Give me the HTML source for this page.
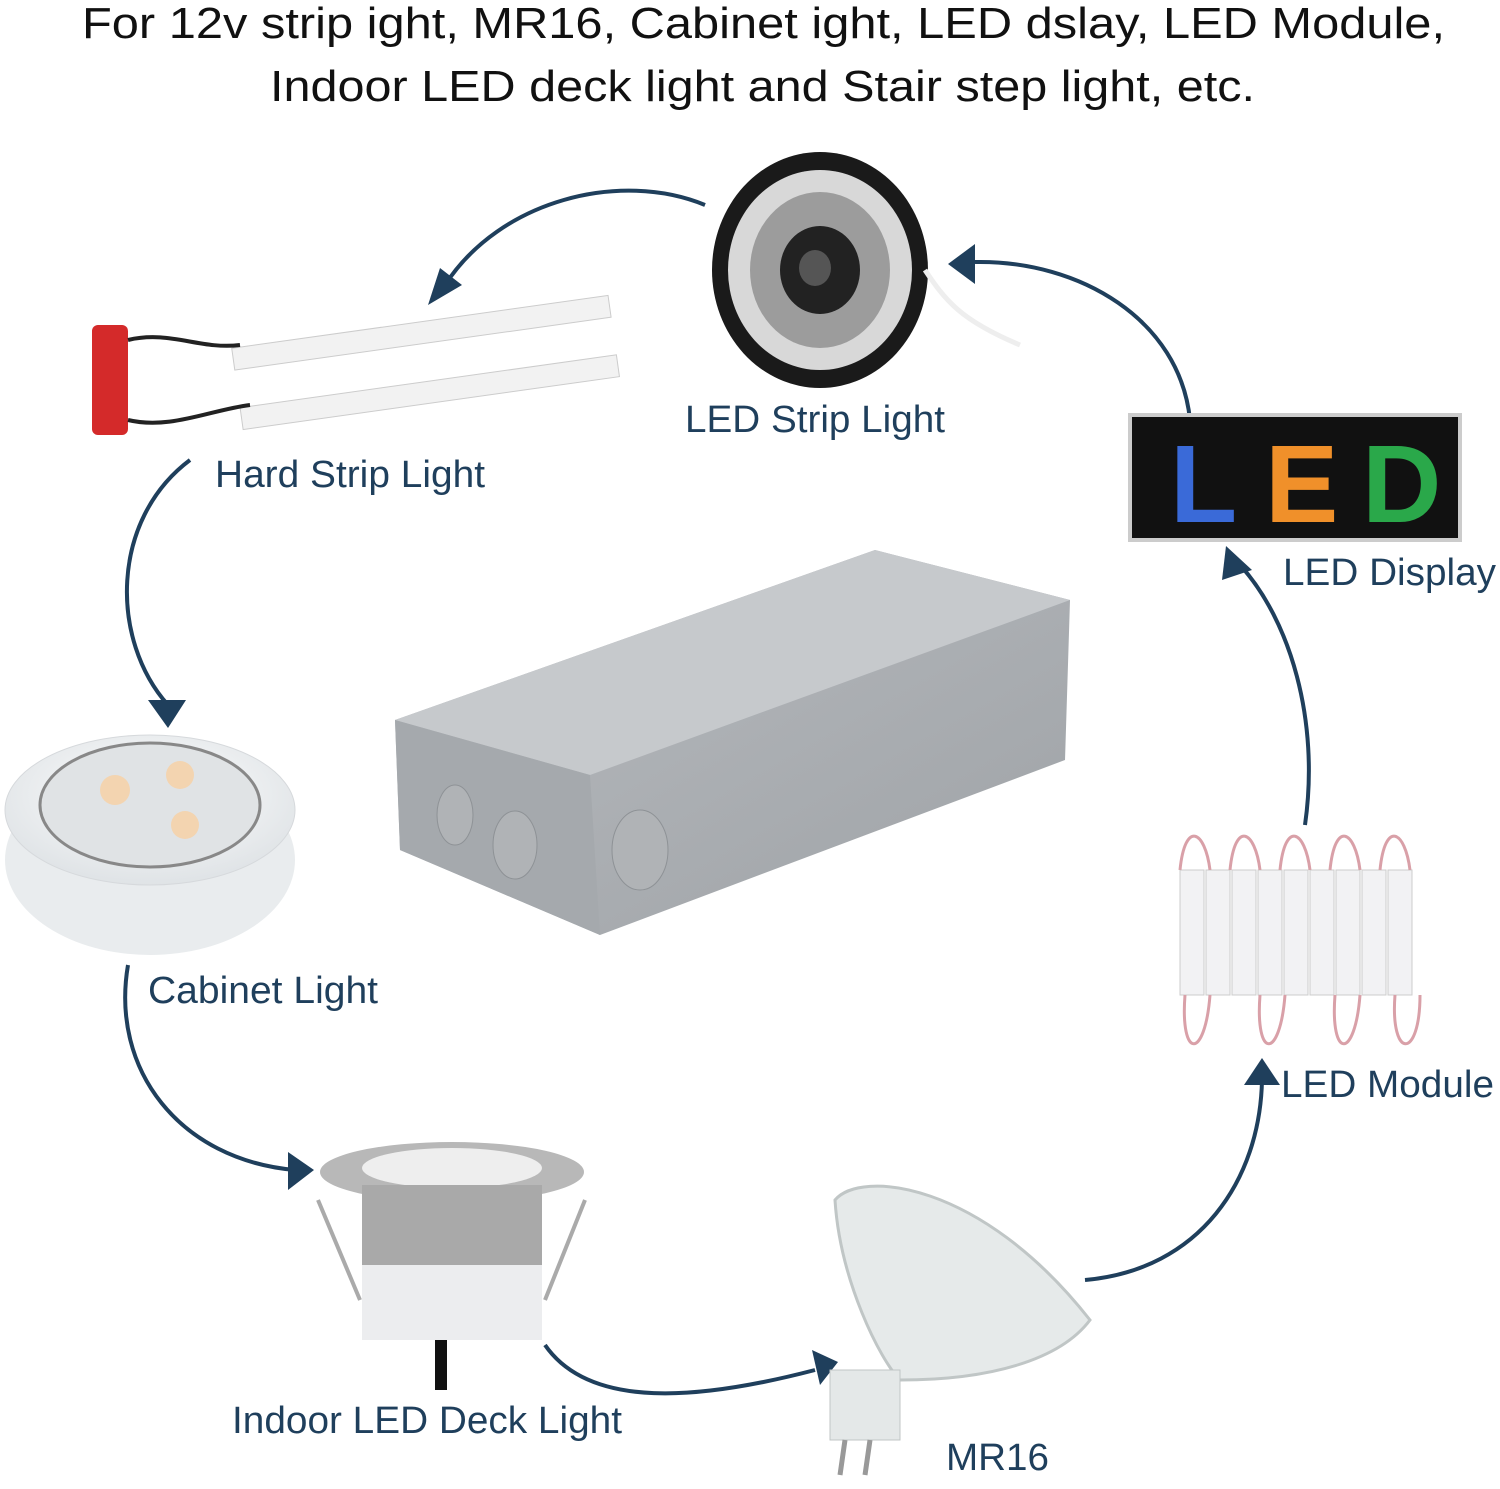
<!DOCTYPE html>
<html><head><meta charset="utf-8"><style>
html,body{margin:0;padding:0;background:#fff}
svg{display:block}
text{font-family:"Liberation Sans",sans-serif}
</style></head><body>
<svg width="1500" height="1489" viewBox="0 0 1500 1489" xmlns="http://www.w3.org/2000/svg">
<defs>
<linearGradient id="box" x1="0" y1="0" x2="1" y2="1"><stop offset="0" stop-color="#b9bcc0"/><stop offset="1" stop-color="#9ea2a6"/></linearGradient>
<radialGradient id="cab" cx="0.5" cy="0.4" r="0.6"><stop offset="0" stop-color="#fff"/><stop offset="1" stop-color="#dfe3e6"/></radialGradient>
</defs>
<text x="82" y="38" font-size="44" textLength="1363" lengthAdjust="spacingAndGlyphs" fill="#111">For 12v strip ight, MR16, Cabinet ight, LED dslay, LED Module,</text>
<text x="270" y="101" font-size="44" textLength="985" lengthAdjust="spacingAndGlyphs" fill="#111">Indoor LED deck light and Stair step light, etc.</text>

<g fill="none" stroke="#1f3f5c" stroke-width="4">
<path d="M705,205 C620,170 500,200 445,285"/>
<path d="M1190,420 C1180,320 1080,260 975,262"/>
<path d="M190,460 C110,520 110,640 168,705"/>
<path d="M128,965 C110,1070 180,1160 295,1170"/>
<path d="M545,1345 C590,1410 700,1400 815,1370"/>
<path d="M1085,1280 C1200,1270 1260,1180 1262,1080"/>
<path d="M1305,825 C1320,720 1290,620 1240,565"/>
</g>
<g fill="#1f3f5c">
<polygon points="428,305 440,268 462,285"/>
<polygon points="948,264 975,244 975,284"/>
<polygon points="168,728 148,700 186,700"/>
<polygon points="314,1170 288,1152 288,1190"/>
<polygon points="838,1362 812,1350 820,1385"/>
<polygon points="1262,1058 1244,1085 1280,1085"/>
<polygon points="1226,546 1222,580 1252,570"/>
</g>

<ellipse cx="820" cy="270" rx="108" ry="118" fill="#1a1a1a"/>
<ellipse cx="820" cy="270" rx="92" ry="100" fill="#d8d8d8"/>
<ellipse cx="820" cy="270" rx="70" ry="78" fill="#9c9c9c"/>
<ellipse cx="820" cy="270" rx="40" ry="44" fill="#222"/>
<ellipse cx="815" cy="268" rx="16" ry="18" fill="#555"/>
<path d="M925,270 C945,300 960,320 1020,345" stroke="#eee" stroke-width="5" fill="none"/>

<g transform="rotate(-8 400 360)">
<rect x="235" y="325" width="380" height="22" fill="#f2f2f2" stroke="#ccc"/>
<rect x="235" y="385" width="380" height="22" fill="#f2f2f2" stroke="#ccc"/>
</g>
<rect x="92" y="325" width="36" height="110" rx="6" fill="#d42a2a"/>
<path d="M128,340 C170,330 200,350 240,345 M128,420 C170,430 210,410 250,405" stroke="#222" stroke-width="4" fill="none"/>

<rect x="1130" y="415" width="330" height="125" fill="#111" stroke="#ccc" stroke-width="4"/>
<text x="1170" y="522" font-size="110" font-weight="bold" fill="#3a6ad8">L</text>
<text x="1265" y="522" font-size="110" font-weight="bold" fill="#f0902a">E</text>
<text x="1362" y="522" font-size="110" font-weight="bold" fill="#2aa84a">D</text>

<polygon points="395,720 875,550 1070,600 1065,760 600,935 400,850" fill="url(#box)"/>
<polygon points="395,720 875,550 1070,600 590,775" fill="#c6c9cc"/>
<polygon points="395,720 590,775 600,935 400,850" fill="#a5a9ad"/>
<ellipse cx="640" cy="850" rx="28" ry="40" fill="#b0b3b6" stroke="#8e9296"/>
<ellipse cx="515" cy="845" rx="22" ry="34" fill="#b0b3b6" stroke="#8e9296"/>
<ellipse cx="455" cy="815" rx="18" ry="30" fill="#b0b3b6" stroke="#8e9296"/>

<ellipse cx="150" cy="860" rx="145" ry="95" fill="#e9ecee"/>
<ellipse cx="150" cy="810" rx="145" ry="75" fill="url(#cab)" stroke="#d6d9dc"/>
<ellipse cx="150" cy="805" rx="110" ry="62" fill="#e0e3e5" stroke="#888" stroke-width="3"/>
<circle cx="115" cy="790" r="15" fill="#f3d4b0"/><circle cx="180" cy="775" r="14" fill="#f3d4b0"/><circle cx="185" cy="825" r="14" fill="#f3d4b0"/>

<ellipse cx="452" cy="1172" rx="132" ry="30" fill="#b8b8b8"/>
<ellipse cx="452" cy="1168" rx="90" ry="20" fill="#eee"/>
<rect x="362" y="1185" width="180" height="80" fill="#a9a9a9"/>
<rect x="362" y="1265" width="180" height="75" fill="#ecedef"/>
<rect x="435" y="1340" width="12" height="50" fill="#111"/>
<path d="M318,1200 L360,1300 M585,1200 L545,1300" stroke="#aaa" stroke-width="4"/>

<path d="M835,1200 C860,1170 980,1180 1090,1320 C1060,1360 990,1380 900,1380 C880,1360 840,1280 835,1200Z" fill="#e6eaea" stroke="#c0c6c6" stroke-width="3"/>
<rect x="830" y="1370" width="70" height="70" fill="#e4e8e8" stroke="#c0c6c6"/>
<path d="M845,1440 L840,1475 M870,1440 L865,1475" stroke="#999" stroke-width="5"/>

<g fill="#f2f2f4" stroke="#ccc">
<rect x="1180" y="870" width="24" height="125"/><rect x="1206" y="870" width="24" height="125"/><rect x="1232" y="870" width="24" height="125"/><rect x="1258" y="870" width="24" height="125"/><rect x="1284" y="870" width="24" height="125"/><rect x="1310" y="870" width="24" height="125"/><rect x="1336" y="870" width="24" height="125"/><rect x="1362" y="870" width="24" height="125"/><rect x="1388" y="870" width="24" height="125"/>
</g>
<path d="M1180,870 C1185,820 1205,830 1210,870 M1230,870 C1235,820 1255,830 1260,870 M1280,870 C1285,820 1305,830 1310,870 M1330,870 C1335,820 1355,830 1360,870 M1380,870 C1385,820 1405,830 1410,870 M1185,995 C1180,1060 1205,1060 1210,995 M1260,995 C1255,1060 1280,1060 1285,995 M1335,995 C1330,1060 1355,1060 1360,995 M1395,995 C1390,1060 1420,1060 1420,995" stroke="#d9a0a8" stroke-width="3" fill="none"/>

<g font-size="38" fill="#1f3f5c" lengthAdjust="spacingAndGlyphs">
<text x="685" y="432" textLength="260" lengthAdjust="spacingAndGlyphs">LED Strip Light</text>
<text x="215" y="487" textLength="270" lengthAdjust="spacingAndGlyphs">Hard Strip Light</text>
<text x="1283" y="585" textLength="213" lengthAdjust="spacingAndGlyphs">LED Display</text>
<text x="148" y="1003" textLength="230" lengthAdjust="spacingAndGlyphs">Cabinet Light</text>
<text x="1281" y="1097" textLength="213" lengthAdjust="spacingAndGlyphs">LED Module</text>
<text x="232" y="1433" textLength="390" lengthAdjust="spacingAndGlyphs">Indoor LED Deck Light</text>
<text x="946" y="1470" textLength="103" lengthAdjust="spacingAndGlyphs">MR16</text>
</g>
</svg>
</body></html>
